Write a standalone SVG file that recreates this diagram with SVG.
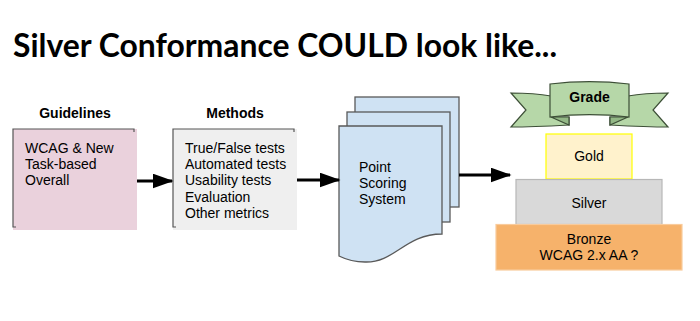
<svg xmlns="http://www.w3.org/2000/svg" width="700" height="321" viewBox="0 0 700 321">
<defs>
<style>
text{font-family:"Liberation Sans",Arial,sans-serif;font-size:14px;fill:#000}
.title{font-family:Lato,"Open Sans",sans-serif;font-weight:bold;font-size:33px}
.hd{font-weight:bold}
.c{text-anchor:middle}
.conn{stroke:#000;stroke-width:3;fill:none}
.doc{fill:#cfe2f3;stroke:#595959;stroke-width:1.3}
.rib{fill:#b6d7a8;stroke:#3d4f37;stroke-width:1.2}
</style>
<marker id="ah" markerWidth="7" markerHeight="5" refX="6.5" refY="2.5" orient="auto" markerUnits="strokeWidth">
<path d="M0,0 L7,2.5 L0,5 Z" fill="#000"/>
</marker>
</defs>
<rect width="700" height="321" fill="#fff"/>
<text class="title" x="13" y="57" textLength="544" lengthAdjust="spacingAndGlyphs">Silver Conformance COULD look like...</text>

<g id="guidelines">
<text class="hd c" x="75" y="118">Guidelines</text>
<rect x="13" y="129" width="124" height="101" fill="#ead1dc"/>
<path d="M16,227 H13 V129 H134 V132" fill="none" stroke="#555" stroke-width="1.2"/>
<text x="25" y="153">WCAG &amp; New</text>
<text x="25" y="169">Task-based</text>
<text x="25" y="185">Overall</text>
</g>

<g id="methods">
<text class="hd c" x="235" y="118">Methods</text>
<rect x="173" y="129" width="124" height="101" fill="#efefef"/>
<path d="M176,227 H173 V129 H294 V132" fill="none" stroke="#555" stroke-width="1.2"/>
<text x="185" y="153">True/False tests</text>
<text x="185" y="169">Automated tests</text>
<text x="185" y="185">Usability tests</text>
<text x="185" y="201.5">Evaluation</text>
<text x="185" y="218">Other metrics</text>
</g>

<g id="scoring">
<rect class="doc" x="355" y="97" width="104" height="110"/>
<rect class="doc" x="347" y="112" width="103" height="110"/>
<path class="doc" d="M339,126 H442 V234 C405,234 395,263 365,262 C352,262 345,259 339,256 Z"/>
<text x="359" y="172">Point</text>
<text x="359" y="188">Scoring</text>
<text x="359" y="204">System</text>
</g>

<g id="grade">
<path class="rib" d="M511,93 C525,93 540,94 551,96 L551,117 L569,117 L569,125 C550,126 530,127 511,127 L526,110 Z"/>
<path d="M551,117 L569,117 L569,125 Z" fill="#93b886" stroke="#3d4f37" stroke-width="1.2"/>
<path class="rib" d="M668,93 C654,93 639,94 628,96 L628,117 L610,117 L610,125 C629,126 649,127 668,127 L653,110 Z"/>
<path d="M628,117 L610,117 L610,125 Z" fill="#93b886" stroke="#3d4f37" stroke-width="1.2"/>
<path class="rib" d="M550,84 C575,81 604,81 629,84 L629,117 C604,114 575,114 550,117 Z"/>
<text class="hd c" x="589.5" y="102">Grade</text>
</g>

<g id="gold">
<rect x="546" y="134" width="86" height="45" fill="#fff2cc" stroke="#ffff00" stroke-width="1.2"/>
<text class="c" x="589" y="161">Gold</text>
</g>

<g id="silver">
<rect x="516" y="179.5" width="146" height="45" fill="#d9d9d9" stroke="#b7b7b7" stroke-width="1.2"/>
<text class="c" x="589" y="208">Silver</text>
</g>

<g id="bronze">
<rect x="496" y="224.5" width="186" height="45.5" fill="#f6b26b" stroke="#f9cb9c" stroke-width="1.2"/>
<text class="c" x="589" y="244">Bronze</text>
<text class="c" x="589" y="260">WCAG 2.x AA ?</text>
</g>

<g id="connectors">
<line class="conn" x1="137" y1="181" x2="172" y2="181" marker-end="url(#ah)"/>
<line class="conn" x1="297" y1="180" x2="339" y2="180" marker-end="url(#ah)"/>
<line class="conn" x1="459" y1="175" x2="510" y2="175" marker-end="url(#ah)"/>
</g>
</svg>
